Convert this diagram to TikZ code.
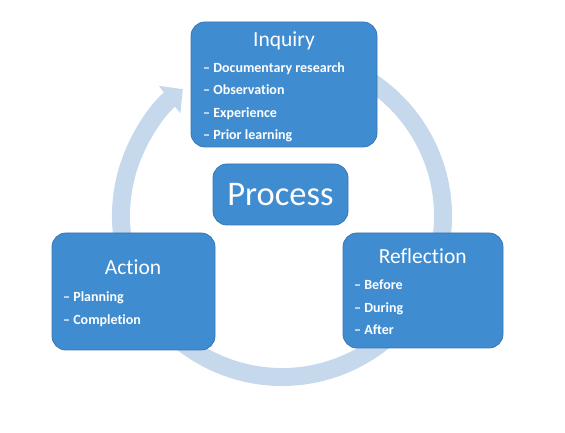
\documentclass[tikz,border=0pt]{standalone}
\usepackage{fontspec}
\setmainfont{Carlito}[Ligatures={TeX,NoCommon}]
\usepackage{tikz}
\usetikzlibrary{arrows.meta, positioning, calc}
\definecolor{boxblue}{RGB}{64,140,208}
\definecolor{boxedge}{RGB}{56,118,182}
\definecolor{cyclegray}{RGB}{198,217,236}

\begin{document}
\begin{tikzpicture}[x=1pt, y=1pt,
  stage/.style={draw=boxedge, line width=0.8pt, fill=boxblue, rounded corners=14pt, inner sep=0pt},
  stagetitle/.style={text=white, anchor=base, inner sep=0pt, font=\fontsize{21.5}{25}\selectfont},
  stageitem/.style={text=white, anchor=base west, inner sep=0pt, font=\bfseries\fontsize{14}{16}\selectfont}]
  \useasboundingbox (0,0) rectangle (565,433);
  % the cycle behind the boxes
  \coordinate (hub) at (282,217);
  \draw[cyclegray, line width=18pt, -{Triangle[length=17pt, width=34pt]}]
    ($(hub)+(70:161)$) arc[start angle=70, end angle=-232, radius=161];
  % inquiry
  \node[stage, minimum width=186pt, minimum height=125pt] (inquiry) at (284,348.5) {};
  \node[stagetitle] (inquiry-title) at (284,386) {Inquiry};
  \foreach \txt [count=\i] in {Documentary research, Observation, Experience, Prior learning}
    \node[stageitem] (inquiry-\i) at (203,383.2-22.5*\i) {-- \txt};
  % process
  \node[stage, text=white, minimum width=135pt, minimum height=61pt,
    font=\fontsize{34.5}{38}\selectfont] (process) at (280.5,238.5) {Process};
  % action
  \node[stage, minimum width=163pt, minimum height=117pt] (action) at (133.5,141.5) {};
  \node[stagetitle] (action-title) at (133,158) {Action};
  \foreach \txt [count=\i] in {Planning, Completion}
    \node[stageitem] (action-\i) at (63,154.5-23.2*\i) {-- \txt};
  % reflection
  \node[stage, minimum width=160pt, minimum height=115pt] (reflection) at (423,142.5) {};
  \node[stagetitle] (reflection-title) at (422.7,169.7) {Reflection};
  \foreach \txt [count=\i] in {Before, During, After}
    \node[stageitem] (reflection-\i) at (354,165.5-22.5*\i) {-- \txt};
\end{tikzpicture}
\end{document}
